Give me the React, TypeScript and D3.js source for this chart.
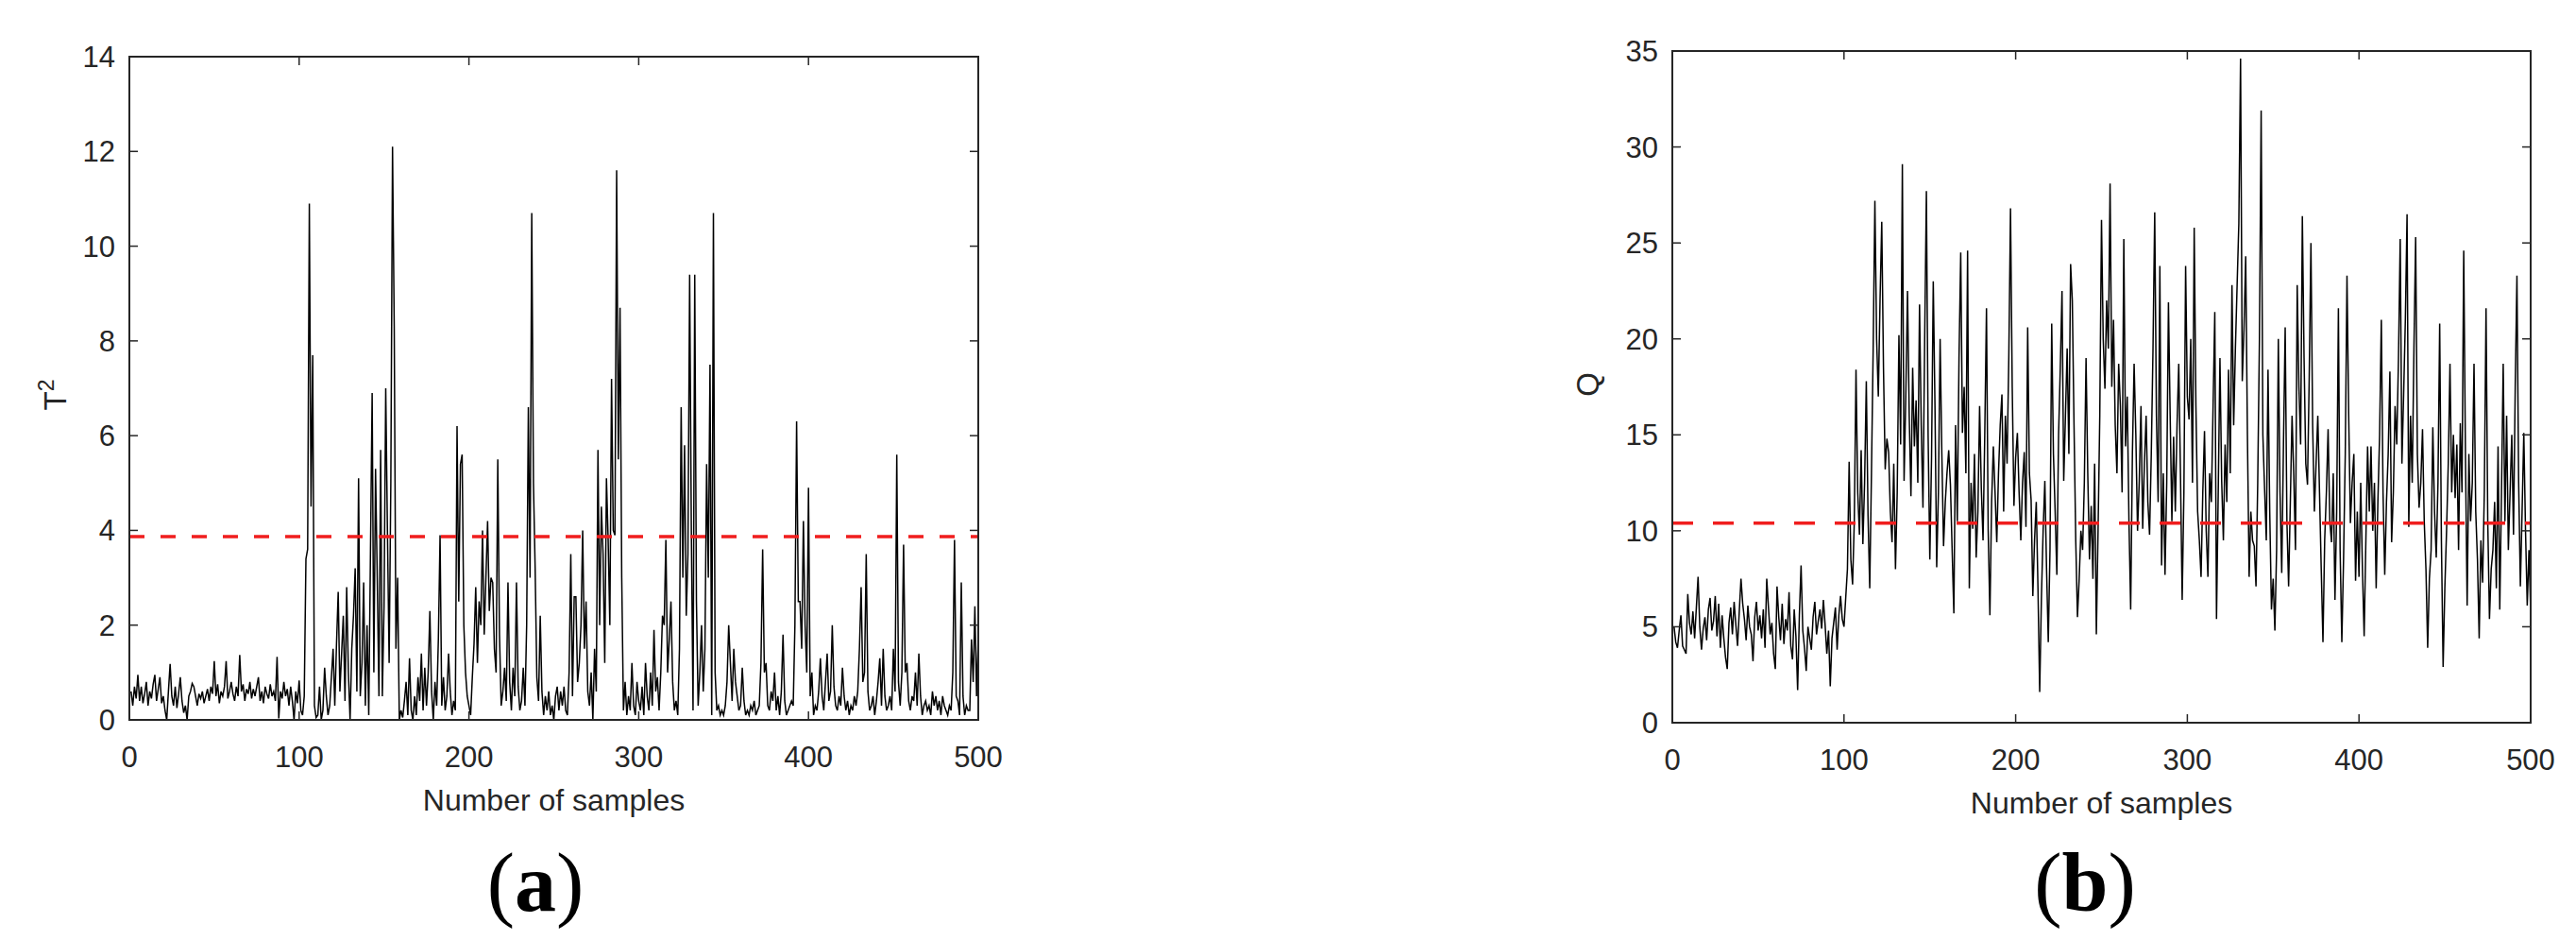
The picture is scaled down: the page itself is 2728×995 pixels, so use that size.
import * as d3 from "d3";

// x axis: sample number, ticks every 100
const SAMPLE_TICKS = [0, 100, 200, 300, 400, 500];
const T2_TICKS = [0, 2, 4, 6, 8, 10, 12, 14];
const Q_TICKS = [0, 5, 10, 15, 20, 25, 30, 35];

// control limits (red dashed)
const T2_LIMIT = 3.87;
const Q_LIMIT = 10.4;

// T^2 statistic, samples 1..500
const T2 = [
  0.6, 0.3, 0.7, 0.45, 0.95, 0.4, 0.7, 0.35, 0.55, 0.8,
  0.3, 0.6, 0.45, 0.75, 0.95, 0.4, 0.65, 0.9, 0.35, 0.5,
  0.2, 0.0, 0.6, 1.18, 0.5, 0.3, 0.7, 0.25, 0.55, 0.9,
  0.4, 0.15, 0.3, 0.0, 0.5, 0.6, 0.77, 0.7, 0.5, 0.3,
  0.55, 0.45, 0.6, 0.35, 0.5, 0.65, 0.4, 0.7, 0.55, 1.24,
  0.5, 0.75, 0.35, 0.6, 0.5, 0.7, 1.24, 0.45, 0.6, 0.8,
  0.55, 0.4, 0.7, 0.5, 1.37, 0.6, 0.75, 0.4, 0.65, 0.55,
  0.8, 0.45, 0.65, 0.5, 0.7, 0.9, 0.4, 0.6, 0.35, 0.7,
  0.55, 0.45, 0.75, 0.5, 0.6, 0.4, 1.33, 0.03, 0.6, 0.45,
  0.8, 0.5, 0.65, 0.3, 0.7, 0.4, 0.0, 0.6, 0.35, 0.83,
  0.2, 0.1, 0.5, 3.4, 3.6, 10.9, 4.5, 7.7, 0.3, 0.05,
  0.1, 0.7, 0.0, 0.2, 1.1, 0.5, 0.1, 0.3, 0.9, 1.5,
  0.3, 1.6, 2.7, 0.6, 1.4, 2.2, 0.4, 2.8, 1.0, 0.0,
  1.5, 2.2, 3.2, 0.6, 5.1, 0.5, 1.2, 2.9, 0.3, 2.0,
  0.1, 3.5, 6.9, 1.0, 5.3, 3.0, 0.5, 5.7, 0.5, 2.4,
  7.0, 4.0, 1.2, 5.0, 12.1, 8.3, 1.5, 3.0, 0.0, 0.2,
  0.05, 0.4, 0.8, 0.1, 1.3, 0.2, 0.0, 0.5, 0.1, 0.9,
  0.4, 1.4, 0.2, 1.1, 0.3, 1.0, 2.3, 0.6, 0.0, 0.8,
  0.3, 1.7, 3.9, 0.3, 0.9, 0.2, 0.5, 1.4, 0.6, 0.1,
  0.4, 0.2, 6.2, 2.5, 5.4, 5.6, 2.0, 1.0, 0.5, 0.3,
  0.1, 0.9, 1.6, 2.8, 1.2, 2.5, 2.0, 4.0, 1.8, 3.0,
  4.2, 2.3, 3.0, 2.9, 1.5, 1.0, 5.5, 1.8, 0.3, 0.6,
  1.1, 0.4, 2.9, 0.8, 0.2, 1.1, 0.5, 2.9, 0.7, 0.2,
  0.4, 1.1, 0.3, 2.0, 6.6, 3.0, 10.7, 5.0, 3.2, 0.9,
  0.4, 2.2, 0.6, 0.1, 0.5, 0.2, 0.6, 0.1, 0.3, 0.0,
  0.5, 0.7, 0.2, 0.6, 0.3, 0.7, 0.2, 0.1, 1.0, 3.5,
  0.5, 2.6, 2.6, 0.8, 1.2, 2.0, 4.0, 1.5, 2.5, 0.6,
  0.3, 1.0, 0.0, 1.5, 0.6, 5.7, 2.0, 4.5, 3.5, 1.2,
  5.1, 3.8, 2.0, 7.2, 4.0, 3.9, 11.6, 5.5, 8.7, 3.0,
  0.2, 0.8, 0.1, 0.5, 0.2, 1.2, 0.3, 0.1, 0.8, 0.4,
  0.2, 0.7, 0.1, 1.2, 0.5, 0.2, 1.0, 0.3, 1.9, 0.6,
  0.9, 0.2, 1.0, 2.2, 2.0, 3.8, 1.0, 1.7, 2.5, 0.8,
  0.2, 0.4, 0.1, 1.5, 6.6, 3.0, 5.8, 2.2, 3.5, 9.4,
  4.0, 0.2, 9.4, 2.5, 0.3, 1.0, 2.0, 0.6, 1.5, 5.4,
  3.0, 7.5, 0.1, 10.7, 1.0, 0.2, 0.3, 0.1, 0.2, 0.1,
  0.3, 0.8, 2.0, 1.2, 0.4, 1.5, 0.8, 0.5, 0.2, 0.3,
  1.1, 0.4, 0.1, 0.2, 0.1, 0.3, 0.2, 0.4, 0.1, 0.2,
  0.3, 1.2, 3.6, 1.0, 1.2, 0.3, 0.2, 0.6, 0.4, 1.0,
  0.2, 0.5, 0.1, 0.6, 1.8, 0.4, 0.1, 0.2, 0.3, 0.4,
  0.3, 2.0, 6.3, 2.5, 2.5, 1.5, 4.2, 2.0, 1.0, 4.9,
  0.5, 1.0, 0.1, 0.3, 0.2, 0.6, 1.3, 0.5, 0.2, 0.8,
  1.4, 0.4, 0.6, 2.0, 0.7, 0.3, 0.2, 0.5, 0.3, 1.1,
  0.5, 0.2, 0.4, 0.1, 0.3, 0.2, 0.5, 0.3, 0.6, 1.5,
  2.8, 0.8, 1.0, 3.5, 0.6, 0.2, 0.3, 0.5, 0.1, 0.4,
  0.8, 1.3, 0.3, 1.5, 0.5, 0.2, 0.3, 0.5, 0.2, 1.5,
  0.6, 5.6, 0.8, 0.3, 1.0, 3.7, 1.0, 1.2, 0.4, 0.2,
  0.5, 0.4, 1.0, 0.3, 1.4, 0.5, 0.1, 0.3, 0.4, 0.2,
  0.3, 0.1, 0.6, 0.3, 0.5, 0.2, 0.4, 0.1, 0.5, 0.3,
  0.2, 0.1, 0.3, 0.2, 1.0, 3.8, 0.5, 0.4, 0.1, 2.9,
  0.5, 0.1, 0.3, 0.2, 0.2, 1.7, 0.8, 2.4, 0.5, 1.8,
];

// Q (SPE) statistic, samples 1..500
const Q = [
  5.0, 4.2, 3.9, 4.8, 5.6, 4.0, 3.8, 3.6, 6.7, 5.2,
  4.6, 5.8, 4.4, 6.0, 7.6, 5.0, 3.8, 4.9, 5.5, 4.3,
  5.9, 6.5, 4.8, 5.3, 6.6, 4.5, 6.2, 3.9, 5.6, 4.4,
  3.4, 2.8, 5.2, 6.0, 4.6, 6.3, 5.1, 4.0, 5.8, 7.5,
  6.2, 5.4, 4.3, 6.1, 5.0, 4.6, 3.2, 5.5, 6.3, 4.8,
  5.6, 4.4, 5.9, 3.9, 7.5, 6.0, 4.6, 5.2, 3.6, 2.8,
  7.1, 5.5, 4.3, 6.2, 4.1, 5.4, 4.8, 6.8, 4.0, 3.3,
  5.9, 4.5, 1.7, 5.6, 8.2, 4.8, 3.9, 2.7, 5.0, 4.4,
  3.8, 5.5, 6.3, 4.6, 5.3, 5.9, 4.9, 6.4, 5.1, 3.6,
  4.8, 1.9, 4.4, 5.2, 6.0, 3.8, 5.6, 6.6, 5.4, 5.0,
  6.5, 8.0, 13.6, 8.5, 7.2, 10.5, 18.4, 12.0, 9.8, 14.2,
  9.3, 12.5, 17.8, 10.8, 7.0, 13.0, 19.5, 27.2, 20.0, 17.0,
  22.0, 26.1, 18.5, 13.2, 14.8, 14.1, 11.0, 9.4, 13.5, 8.0,
  12.0, 20.2, 14.5, 29.1, 12.6, 17.0, 22.5, 16.0, 11.8, 18.5,
  14.4, 16.8, 12.5, 21.8, 15.5, 11.2, 20.0, 27.7, 15.0, 8.5,
  13.8, 23.0, 16.5, 8.1, 12.0, 20.0, 14.0, 9.2, 11.5, 13.0,
  14.2, 12.4, 9.0, 5.7, 15.5, 10.5, 19.0, 24.5, 15.1, 17.5,
  13.0, 24.6, 7.0, 12.5, 10.1, 14.0, 8.6, 11.0, 16.5, 12.2,
  9.5, 15.0, 21.6, 10.0, 5.6, 11.5, 14.4, 12.0, 9.4, 13.0,
  15.5, 17.1, 11.0, 16.0, 13.5, 19.0, 26.8, 17.5, 11.3, 13.8,
  15.1, 12.0, 9.5, 12.5, 14.1, 10.2, 20.6, 13.0, 11.6, 6.6,
  9.5, 11.5, 7.0, 1.6, 6.5, 10.0, 12.6, 8.0, 4.2, 9.0,
  20.8, 14.0, 11.0, 7.7, 15.0, 18.5, 22.5, 12.6, 16.0, 19.5,
  14.0, 23.9, 22.0, 15.5, 9.5, 5.5, 7.5, 10.0, 9.0, 12.5,
  19.0, 13.0, 8.5, 11.3, 7.5, 13.5, 4.6, 10.0, 16.0, 26.2,
  20.0, 17.4, 22.0, 19.5, 28.1, 17.5, 21.0, 15.5, 13.0, 18.7,
  16.5, 12.0, 25.2, 14.4, 17.0, 10.5, 5.9, 14.0, 18.7, 15.0,
  10.0, 12.6, 16.5, 10.1, 13.5, 16.0, 11.5, 9.8, 14.0, 19.5,
  26.6, 16.0, 11.5, 23.8, 8.2, 13.0, 7.7, 12.5, 21.9, 16.0,
  10.5, 14.9, 11.0, 15.5, 18.7, 13.0, 6.4, 12.0, 23.8, 17.0,
  15.8, 20.0, 12.5, 25.8, 16.5, 11.0, 9.5, 7.6, 12.0, 15.2,
  10.0, 7.6, 13.0, 11.5, 16.5, 21.4, 5.4, 12.0, 19.0, 12.6,
  9.5, 14.5, 11.5, 18.4, 13.0, 22.8, 15.5, 19.5, 22.8, 26.0,
  34.6, 17.8, 20.5, 24.3, 15.0, 7.6, 11.0, 9.5, 9.2, 7.1,
  12.5, 20.0, 31.9, 15.0, 12.2, 9.5, 18.4, 11.0, 5.9, 7.5,
  4.8, 9.0, 20.0, 12.0, 7.8, 14.5, 20.6, 10.5, 7.1, 11.5,
  16.0, 12.9, 9.0, 22.8, 17.5, 14.5, 26.4, 19.0, 13.5, 12.4,
  18.0, 25.0, 15.5, 11.0, 13.5, 16.0, 12.0, 8.0, 4.2, 9.5,
  12.0, 15.3, 10.5, 9.4, 13.0, 6.4, 11.0, 21.6, 9.0, 4.2,
  8.5, 14.0, 23.3, 16.0, 10.4, 12.5, 14.0, 7.4, 11.0, 7.6,
  12.5, 8.0, 4.5, 9.5, 14.4, 11.0, 14.4, 10.0, 12.5, 7.0,
  11.5, 15.0, 21.0, 12.0, 7.7, 11.5, 14.0, 18.3, 9.4, 12.0,
  16.5, 14.5, 19.0, 25.2, 13.5, 17.1, 21.0, 26.5, 10.2, 16.0,
  12.5, 19.5, 25.3, 14.0, 11.2, 12.5, 15.3, 10.5, 8.0, 3.9,
  7.5, 9.0, 15.4, 11.0, 8.6, 12.5, 20.8, 9.5, 2.9, 7.0,
  10.0, 13.5, 18.7, 12.0, 15.0, 11.7, 14.5, 9.0, 15.6, 12.0,
  24.6, 14.0, 6.1, 14.0, 10.5, 12.5, 18.7, 11.0, 8.5, 4.4,
  9.5, 7.3, 12.0, 21.6, 10.5, 5.4, 8.0, 9.0, 11.5, 7.0,
  14.4, 5.9, 12.0, 18.7, 10.5, 16.0, 9.0, 12.0, 15.0, 9.8,
  17.5, 23.3, 12.5, 7.1, 11.0, 15.1, 10.0, 6.1, 9.0, 5.8,
];

const AXIS = "#262626";
const SANS = "Arial, 'Liberation Sans', Helvetica, sans-serif";
const SERIF = "'Liberation Serif', 'Times New Roman', serif";

type Frame = { x0: number; x1: number; y0: number; y1: number };

function Panel({
  id,
  frame,
  values,
  yMax,
  yTicks,
  limit,
  dash,
  yTitle,
  titleX,
  titleY,
  tag,
  tagX,
}: {
  id: string;
  frame: Frame;
  values: number[];
  yMax: number;
  yTicks: number[];
  limit: number;
  dash: string;
  yTitle: React.ReactNode;
  titleX: number;
  titleY: number;
  tag: string;
  tagX: number;
}) {
  const x = d3.scaleLinear().domain([0, 500]).range([frame.x0, frame.x1]);
  const y = d3.scaleLinear().domain([0, yMax]).range([frame.y1, frame.y0]);
  const line = d3
    .line<number>()
    .x((_, i) => x(i + 1))
    .y((d) => y(d));
  const tick = 9;
  const fs = 31;

  return (
    <g>
      <defs>
        <clipPath id={`clip-${id}`}>
          <rect x={frame.x0} y={frame.y0} width={frame.x1 - frame.x0} height={frame.y1 - frame.y0} />
        </clipPath>
      </defs>

      {/* data */}
      <path
        d={line(values) ?? ""}
        fill="none"
        stroke="#000"
        strokeWidth={1.5}
        clipPath={`url(#clip-${id})`}
      />

      {/* control limit */}
      <line
        x1={x(0)}
        x2={x(500)}
        y1={y(limit)}
        y2={y(limit)}
        stroke="#f01e1e"
        strokeWidth={3.5}
        strokeDasharray={dash}
      />

      {/* box */}
      <rect
        x={frame.x0}
        y={frame.y0}
        width={frame.x1 - frame.x0}
        height={frame.y1 - frame.y0}
        fill="none"
        stroke={AXIS}
        strokeWidth={2}
      />

      {/* x ticks (bottom + top, inward) */}
      {SAMPLE_TICKS.map((t) => (
        <g key={`x${t}`}>
          <line x1={x(t)} x2={x(t)} y1={frame.y1} y2={frame.y1 - tick} stroke={AXIS} strokeWidth={1.5} />
          <line x1={x(t)} x2={x(t)} y1={frame.y0} y2={frame.y0 + tick} stroke={AXIS} strokeWidth={1.5} />
          <text
            x={x(t)}
            y={frame.y1 + 50}
            textAnchor="middle"
            fontFamily={SANS}
            fontSize={fs}
            fill={AXIS}
          >
            {t}
          </text>
        </g>
      ))}

      {/* y ticks (left + right, inward) */}
      {yTicks.map((t) => (
        <g key={`y${t}`}>
          <line x1={frame.x0} x2={frame.x0 + tick} y1={y(t)} y2={y(t)} stroke={AXIS} strokeWidth={1.5} />
          <line x1={frame.x1} x2={frame.x1 - tick} y1={y(t)} y2={y(t)} stroke={AXIS} strokeWidth={1.5} />
          <text
            x={frame.x0 - 15}
            y={y(t) + 11}
            textAnchor="end"
            fontFamily={SANS}
            fontSize={fs}
            fill={AXIS}
          >
            {t}
          </text>
        </g>
      ))}

      {/* axis titles */}
      <text
        x={(frame.x0 + frame.x1) / 2}
        y={frame.y1 + 96}
        textAnchor="middle"
        fontFamily={SANS}
        fontSize={32}
        fill={AXIS}
      >
        Number of samples
      </text>
      <text
        transform={`translate(${titleX},${titleY}) rotate(-90)`}
        textAnchor="middle"
        fontFamily={SANS}
        fontSize={33}
        fill={AXIS}
      >
        {yTitle}
      </text>

      {/* sub-figure tag */}
      <text x={tagX} y={964} textAnchor="middle" fontFamily={SERIF} fontSize={88} fill="#000">
        (<tspan fontWeight="bold">{tag}</tspan>)
      </text>
    </g>
  );
}

export default function App() {
  return (
    <svg
      width={2728}
      height={995}
      style={{ position: "absolute", left: 0, top: 0, background: "#fff" }}
    >
      <rect width={2728} height={995} fill="#fff" />
      <Panel
        id="t2"
        frame={{ x0: 137, x1: 1036, y0: 60, y1: 762 }}
        values={T2}
        yMax={14}
        yTicks={T2_TICKS}
        limit={T2_LIMIT}
        dash="16 17"
        yTitle={
          <>
            T
            <tspan dy={-13} fontSize={23}>
              2
            </tspan>
          </>
        }
        titleX={70}
        titleY={418}
        tag="a"
        tagX={567}
      />
      <Panel
        id="q"
        frame={{ x0: 1771, x1: 2680, y0: 54, y1: 765 }}
        values={Q}
        yMax={35}
        yTicks={Q_TICKS}
        limit={Q_LIMIT}
        dash="22 21"
        yTitle="Q"
        titleX={1693}
        titleY={407}
        tag="b"
        tagX={2208}
      />
    </svg>
  );
}
